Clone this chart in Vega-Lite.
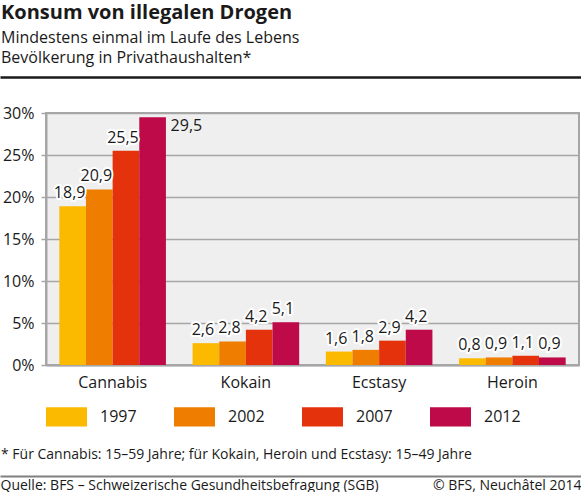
{
  "$schema": "https://vega.github.io/schema/vega-lite/v6.json",
  "padding": {"left": 0, "top": 3, "right": 0, "bottom": 0},
  "background": "white",
  "config": {
    "font": "Open Sans",
    "locale": {"number": {"decimal": ",", "thousands": "'", "grouping": [3], "currency": ["", " CHF"]}},
    "view": {"stroke": null},
    "axis": {"labelColor": "#1a1a1a", "labelFont": "Open Sans"},
    "title": {"color": "#1a1a1a", "subtitleColor": "#1a1a1a", "font": "Open Sans", "subtitleFont": "Open Sans"},
    "legend": {"labelColor": "#1a1a1a", "labelFont": "Open Sans"}
  },
  "spacing": 19,
  "resolve": {"legend": {"color": "independent"}, "scale": {"color": "independent", "x": "independent"}},
  "vconcat": [
    {
      "title": {
        "text": "Konsum von illegalen Drogen",
        "subtitle": ["Mindestens einmal im Laufe des Lebens", "Bevölkerung in Privathaushalten*"],
        "anchor": "start",
        "frame": "bounds",
        "fontSize": 20,
        "fontWeight": "bold",
        "subtitleFontSize": 16,
        "subtitleLineHeight": 20,
        "subtitlePadding": 7,
        "offset": 11,
        "dx": 1
      },
      "width": 535,
      "height": 7.5,
      "data": {"values": [{}]},
      "mark": {"type": "text", "fontSize": 0.1},
      "encoding": {
        "x": {"datum": 0, "type": "quantitative", "scale": {"domain": [0, 1], "range": [-46, 535]},
          "axis": {"orient": "top", "labels": false, "ticks": false, "grid": false, "title": null, "domainColor": "#1a1a1a", "domainWidth": 2.5}},
        "text": {"value": ""}
      }
    },
    {
      "width": 533,
      "height": 252,
      "view": {"fill": "#efefef", "stroke": "#a6a6a6", "strokeWidth": 2},
      "data": {"values": [
        {"drug": "Cannabis", "year": "1997", "value": 18.9},
        {"drug": "Cannabis", "year": "2002", "value": 20.9},
        {"drug": "Cannabis", "year": "2007", "value": 25.5},
        {"drug": "Cannabis", "year": "2012", "value": 29.5},
        {"drug": "Kokain", "year": "1997", "value": 2.6},
        {"drug": "Kokain", "year": "2002", "value": 2.8},
        {"drug": "Kokain", "year": "2007", "value": 4.2},
        {"drug": "Kokain", "year": "2012", "value": 5.1},
        {"drug": "Ecstasy", "year": "1997", "value": 1.6},
        {"drug": "Ecstasy", "year": "2002", "value": 1.8},
        {"drug": "Ecstasy", "year": "2007", "value": 2.9},
        {"drug": "Ecstasy", "year": "2012", "value": 4.2},
        {"drug": "Heroin", "year": "1997", "value": 0.8},
        {"drug": "Heroin", "year": "2002", "value": 0.9},
        {"drug": "Heroin", "year": "2007", "value": 1.1},
        {"drug": "Heroin", "year": "2012", "value": 0.9}
      ]},
      "encoding": {
        "x": {"field": "drug", "type": "nominal", "sort": ["Cannabis", "Kokain", "Ecstasy", "Heroin"],
          "scale": {"paddingInner": 0.2, "paddingOuter": 0.1},
          "axis": {"title": null, "labelAngle": 0, "ticks": false, "domainColor": "#a6a6a6", "domainWidth": 2, "labelFontSize": 16, "labelPadding": 9}},
        "xOffset": {"field": "year", "type": "nominal", "scale": {"paddingInner": 0, "paddingOuter": 0}},
        "y": {"field": "value", "type": "quantitative", "scale": {"domain": [0, 30], "nice": false},
          "axis": {"title": null, "values": [0, 5, 10, 15, 20, 25, 30], "labelExpr": "datum.value + '%'", "labelFontSize": 16, "labelPadding": 7, "tickSize": 5, "tickColor": "#a6a6a6", "tickWidth": 1.5, "gridColor": "#a6a6a6", "gridWidth": 1.5, "domainColor": "#a6a6a6", "domainWidth": 2}}
      },
      "layer": [
        {
          "mark": {"type": "bar"},
          "encoding": {
            "color": {"field": "year", "type": "nominal",
              "scale": {"domain": ["1997", "2002", "2007", "2012"], "range": ["#fbba00", "#ef7d00", "#e4330c", "#be0a48"]},
              "legend": {"orient": "bottom", "direction": "horizontal", "title": null, "symbolType": "M-1,-0.47H1V0.47H-1Z", "symbolSize": 1681, "symbolStrokeWidth": 0, "symbolOpacity": 1, "labelFontSize": 16, "labelOffset": 13, "columnPadding": 37, "offset": 6, "padding": 0}}
          }
        },
        {
          "transform": [{"filter": "datum.value < 28"}],
          "mark": {"type": "text", "dy": -8, "dx": -3, "baseline": "alphabetic", "fontSize": 16, "stroke": "white", "strokeWidth": 4, "strokeJoin": "round", "fill": "white"},
          "encoding": {"text": {"field": "value", "type": "quantitative", "format": ".1f"}}
        },
        {
          "transform": [{"filter": "datum.value < 28"}],
          "mark": {"type": "text", "dy": -8, "dx": -3, "baseline": "alphabetic", "fontSize": 16, "fill": "#1a1a1a"},
          "encoding": {"text": {"field": "value", "type": "quantitative", "format": ".1f"}}
        },
        {
          "transform": [{"filter": "datum.value >= 28"}],
          "mark": {"type": "text", "align": "left", "dx": 18, "dy": 14, "baseline": "alphabetic", "fontSize": 16, "fill": "#1a1a1a"},
          "encoding": {"text": {"field": "value", "type": "quantitative", "format": ".1f"}}
        }
      ]
    },
    {
      "title": {
        "text": "* Für Cannabis: 15–59 Jahre; für Kokain, Heroin und Ecstasy: 15–49 Jahre",
        "anchor": "start",
        "frame": "bounds",
        "fontSize": 14,
        "fontWeight": "normal",
        "offset": 8,
        "dx": 1
      },
      "width": 535,
      "height": 1,
      "data": {"values": [{}]},
      "mark": {"type": "text"},
      "encoding": {
        "x": {"datum": 0, "type": "quantitative", "scale": {"domain": [0, 1], "range": [-46, 535]},
          "axis": {"orient": "bottom", "values": [0, 1], "labelExpr": "datum.value == 0 ? 'Quelle: BFS – Schweizerische Gesundheitsbefragung (SGB)' : '© BFS, Neuchâtel 2014'", "labelAlign": {"condition": {"test": "datum.value == 0", "value": "left"}, "value": "right"}, "labelFlush": false, "labelOverlap": false, "labelBound": false, "labelLimit": 0, "labelFontSize": 14, "labelPadding": 2, "ticks": false, "grid": false, "title": null, "domainColor": "#808080", "domainWidth": 2}},
        "text": {"value": ""}
      }
    }
  ]
}
